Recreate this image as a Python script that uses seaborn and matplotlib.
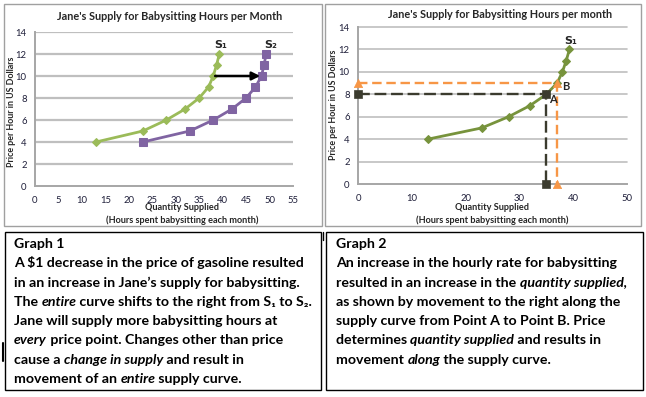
import matplotlib
matplotlib.use("Agg")
import matplotlib.pyplot as plt
import seaborn as sns
from matplotlib.patches import Rectangle
from matplotlib.lines import Line2D
from matplotlib.text import Annotation

# ----------- data -----------
s1_qty = [13, 23, 28, 32, 35, 37, 38, 38.7, 39.3]
s1_price = [4, 5, 6, 7, 8, 9, 10, 11, 12]
s2_qty = [23, 33, 38, 42, 45, 47, 48.3, 48.8, 49.3]
s2_price = [4, 5, 6, 7, 8, 9, 10, 11, 12]

point_a = (35, 8)
point_b = (37, 9)

shift_from = (38.4, 10)
shift_to = (48.0, 10)

left_xticks = list(range(0, 56, 5))
right_xticks = list(range(0, 51, 10))
yticks = list(range(0, 15, 2))

title_left = "Jane's Supply for Babysitting Hours per Month"
title_right = "Jane's Supply for Babysitting Hours per month"
ylabel = "Price per Hour in US Dollars"
xlabel_1 = "Quantity Supplied"
xlabel_2 = "(Hours spent babysitting each month)"

# text boxes: each line is a list of (text, italic)
text_left = [
    [("Graph 1", False)],
    [("A $1 decrease in the price of gasoline resulted", False)],
    [("in an increase in Jane\u2019s supply for babysitting.", False)],
    [("The ", False), ("entire", True), (" curve shifts to the right from S\u2081 to S\u2082.", False)],
    [("Jane will supply more babysitting hours at", False)],
    [("every", True), (" price point. Changes other than price", False)],
    [("cause a ", False), ("change in supply", True), (" and result in", False)],
    [("movement of an ", False), ("entire", True), (" supply curve.", False)],
]
text_right = [
    [("Graph 2", False)],
    [("An increase in the hourly rate for babysitting", False)],
    [("resulted in an increase in the ", False), ("quantity supplied,", True)],
    [("as shown by movement to the right along the", False)],
    [("supply curve from Point A to Point B. Price", False)],
    [("determines ", False), ("quantity supplied", True), (" and results in", False)],
    [("movement ", False), ("along", True), (" the supply curve.", False)],
]

# ----------- style -----------
sns.set_style("white")
plt.rcParams["font.family"] = ["Lato", "DejaVu Sans"]

GREEN_L = "#9BBB59"
GREEN_R = "#77933C"
PURPLE = "#8064A2"
ORANGE = "#F79646"
DARK = "#3B3B2E"
GRID = "#BFBFBF"
AXC = "#A6A6A6"
TICKC = "#1F1F3A"

W, H = 646, 397
fig = plt.figure(figsize=(W / 100, H / 100), dpi=100)


def box(x0, y0, x1, y1):
    # pixel box (top-left origin) -> figure fraction rect
    return [x0 / W, 1 - y1 / H, (x1 - x0) / W, (y1 - y0) / H]


def style_axes(ax, xticks, xmax, grid_lw):
    ax.set_xlim(0, xmax)
    ax.set_ylim(0, 14)
    ax.set_xticks(xticks)
    ax.set_yticks(yticks)
    ax.grid(False)
    for y in yticks[1:]:
        ax.axhline(y, color=GRID, lw=grid_lw, zorder=0)
    for s in ["top", "right"]:
        ax.spines[s].set_visible(False)
    for s in ["left", "bottom"]:
        ax.spines[s].set_color(AXC)
        ax.spines[s].set_linewidth(1.4)
    ax.tick_params(axis="both", direction="out", length=3, width=1, color=AXC,
                   labelsize=6.8, labelcolor=TICKC, pad=3)
    ax.tick_params(axis="x", pad=4)
    ax.set_xlabel("")
    ax.set_ylabel("")
    ax.set_facecolor("none")


# chart frames
fig.add_artist(Rectangle((4 / W, 1 - 226 / H), (322 - 4) / W, (226 - 4) / H,
                         transform=fig.transFigure, fill=False, ec="#A0A0A0", lw=1))
fig.add_artist(Rectangle((325 / W, 1 - 226 / H), (641 - 325) / W, (226 - 4) / H,
                         transform=fig.transFigure, fill=False, ec="#A0A0A0", lw=1))

# ----------- Graph 1 -----------
ax1 = fig.add_axes(box(35, 32, 293, 186))
style_axes(ax1, left_xticks, 55, 1.6)
sns.lineplot(x=s1_qty, y=s1_price, sort=False, estimator=None, color=GREEN_L, lw=2,
             marker="D", markersize=4, markeredgecolor=GREEN_L, ax=ax1, zorder=3)
sns.lineplot(x=s2_qty, y=s2_price, sort=False, estimator=None, color=PURPLE, lw=2,
             marker="s", markersize=6, markeredgecolor=PURPLE, ax=ax1, zorder=3)
ax1.annotate("", xy=shift_to, xytext=shift_from,
             arrowprops=dict(arrowstyle="-|>", color="black", lw=1.8, mutation_scale=12,
                             shrinkA=0, shrinkB=0), zorder=4)
ax1.text(s1_qty[-1] + 0.3, s1_price[-1] + 0.35, "S\u2081", fontsize=8, fontweight="bold",
         ha="center", va="bottom", family=["DejaVu Sans"])
ax1.text(s2_qty[-1] + 0.9, s2_price[-1] + 0.35, "S\u2082", fontsize=8, fontweight="bold",
         ha="center", va="bottom", family=["DejaVu Sans"])

fig.text(170 / W, 1 - 17 / H, title_left, fontsize=7.8, fontweight="bold",
         ha="center", va="center")
fig.text(11.5 / W, 1 - 112 / H, ylabel, fontsize=6.4, fontweight="bold",
         rotation=90, ha="center", va="center")
fig.text(182 / W, 1 - 208 / H, xlabel_1, fontsize=6.6, fontweight="bold",
         ha="center", va="center")
fig.text(182 / W, 1 - 220 / H, xlabel_2, fontsize=6.6, fontweight="bold",
         ha="center", va="center")

# ----------- Graph 2 -----------
ax2 = fig.add_axes(box(358, 27, 627, 184))
style_axes(ax2, right_xticks, 50, 1.2)
a_q, a_p = point_a
b_q, b_p = point_b
sns.lineplot(x=[0, a_q, a_q], y=[a_p, a_p, 0], sort=False, estimator=None, color=DARK,
             lw=1.7, ax=ax2, zorder=2)
ax2.lines[-1].set_dashes((5, 2))
sns.lineplot(x=[0, b_q, b_q], y=[b_p, b_p, 0], sort=False, estimator=None, color=ORANGE,
             lw=1.7, ax=ax2, zorder=2)
ax2.lines[-1].set_dashes((4, 2))
sns.lineplot(x=s1_qty, y=s1_price, sort=False, estimator=None, color=GREEN_R, lw=2,
             marker="D", markersize=4, markeredgecolor=GREEN_R, ax=ax2, zorder=3)
sns.scatterplot(x=[0, a_q, a_q], y=[a_p, a_p, 0], marker="s", s=36, color=DARK,
                edgecolor=DARK, ax=ax2, zorder=4, clip_on=False)
sns.scatterplot(x=[0, b_q, b_q], y=[b_p, b_p, 0], marker="^", s=36, color=ORANGE,
                edgecolor=ORANGE, ax=ax2, zorder=4, clip_on=False)
for ln in ax2.lines:
    ln.set_clip_on(False)
ax2.text(a_q + 1.2, a_p - 0.5, "A", fontsize=8, fontweight="bold", ha="center", va="center")
ax2.text(b_q + 1.7, b_p - 0.35, "B", fontsize=8, fontweight="bold", ha="center", va="center")
ax2.text(s1_qty[-1] + 0.2, s1_price[-1] + 0.3, "S\u2081", fontsize=8, fontweight="bold",
         ha="center", va="bottom", family=["DejaVu Sans"])

fig.text(500 / W, 1 - 15 / H, title_right, fontsize=7.8, fontweight="bold",
         ha="center", va="center")
fig.text(334 / W, 1 - 105 / H, ylabel, fontsize=6.4, fontweight="bold",
         rotation=90, ha="center", va="center")
fig.text(492 / W, 1 - 208 / H, xlabel_1, fontsize=6.6, fontweight="bold",
         ha="center", va="center")
fig.text(492 / W, 1 - 220 / H, xlabel_2, fontsize=6.6, fontweight="bold",
         ha="center", va="center")

# ----------- text boxes -----------
fig.add_artist(Rectangle((5 / W, 1 - 390 / H), (321 - 5) / W, (390 - 232) / H,
                         transform=fig.transFigure, fill=False, ec="black", lw=1))
fig.add_artist(Rectangle((326 / W, 1 - 390 / H), (643 - 326) / W, (390 - 232) / H,
                         transform=fig.transFigure, fill=False, ec="black", lw=1))
fig.add_artist(Line2D([323 / W, 323 / W], [1 - 232 / H, 1 - 240 / H],
                      transform=fig.transFigure, color="black", lw=1))
fig.add_artist(Line2D([3 / W, 3 / W], [1 - 343 / H, 1 - 361 / H],
                      transform=fig.transFigure, color="black", lw=1.5))

TXT_SIZE = 10.2
LINE_STEP = 19.3


def rich_lines(lines, x0, y0):
    # each segment is chained to the right edge of the previous one
    for i, segs in enumerate(lines):
        y = y0 + i * LINE_STEP
        last = None
        for txt, ital in segs:
            kw = dict(fontsize=TXT_SIZE, fontweight="bold", color="black",
                      style="italic" if ital else "normal",
                      family=["Lato", "DejaVu Sans"], parse_math=False)
            if last is None:
                last = fig.text(x0 / W, 1 - y / H, txt, ha="left", va="bottom", **kw)
            else:
                last = fig.add_artist(Annotation(txt, xy=(1, 0), xycoords=last,
                                                 va="bottom", ha="left", **kw))


rich_lines(text_left, 14, 250)
rich_lines(text_right, 336, 250)

fig.savefig("out.png", dpi=100)
